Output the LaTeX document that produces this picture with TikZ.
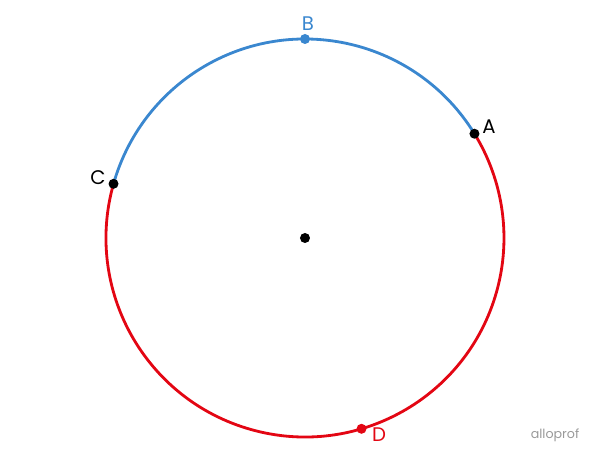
\documentclass[tikz,border=0pt]{standalone}
\usepackage{fontspec}
\setmainfont{Poppins}
\definecolor{arcblue}{HTML}{3A87CF}
\definecolor{arcred}{HTML}{E30613}
\begin{document}
\begin{tikzpicture}[
x=0.025cm,y=0.025cm,
arc/.style={line width=2pt},
pt/.style={circle,fill,inner sep=0pt,minimum size=0.25cm},
lbl/.style={font=\fontsize{14}{14}\selectfont},
]
\useasboundingbox(-305,-221)rectangle(295,238);
%centre
\node[pt](O)at(0,0){};
%arcs
\draw[arc,arcblue](31.6:199)arc(31.6:164.2:199);
\draw[arc,arcred](164.2:199)arc(164.2:391.6:199);
%points on the circle
\node[pt](A)at(31.6:199){};
\node[pt,arcblue](B)at(90:199){};
\node[pt](C)at(164.2:199){};
\node[pt,arcred](D)at(-73.5:199){};
%labels
\node[lbl]at(184,111){A};
\node[lbl,arcblue]at(3,214){B};
\node[lbl]at(-207,60){C};
\node[lbl,arcred]at(74,-197){D};
%watermark
\node[font=\fontsize{9}{9}\selectfont,gray!80]at(250,-197){alloprof};
\end{tikzpicture}
\end{document}
